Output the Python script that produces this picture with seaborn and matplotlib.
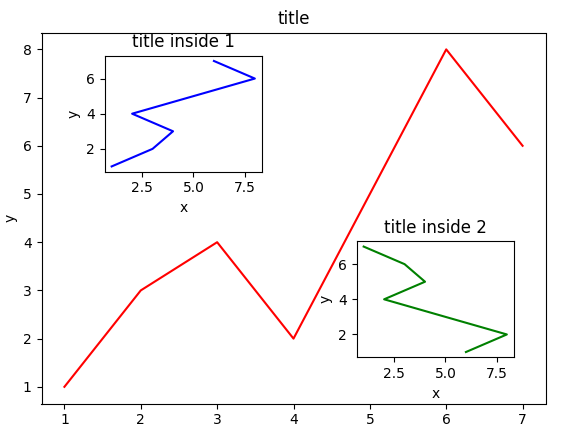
import matplotlib
matplotlib.use("Agg")
import matplotlib.pyplot as plt
import seaborn as sns

# data
x = [1, 2, 3, 4, 5, 6, 7]
y = [1, 3, 4, 2, 5, 8, 6]
y_rev = y[::-1]

W, H = 567, 428


def rect(l, b, w, h):
    # axes boxes given as fractions of a 630x464 canvas, cropped to the output
    return [(l * 630 - 21.5) / W, (b * 464 - 22.1) / H, w * 630 / W, h * 464 / H]


fig = plt.figure(figsize=(W / 100, H / 100), dpi=100)

# main axes
ax1 = fig.add_axes(rect(0.1, 0.1, 0.8, 0.8))
sns.lineplot(x=x, y=y, color='r', ax=ax1, sort=False)
ax1.set_ylabel('y')
ax1.set_title('title')

# inset 1
ax2 = fig.add_axes(rect(0.2, 0.6, 0.25, 0.25))
sns.lineplot(x=y, y=x, color='b', ax=ax2, sort=False)
ax2.set_xlabel('x')
ax2.set_ylabel('y')
ax2.set_title('title inside 1')

# inset 2
ax3 = fig.add_axes(rect(0.6, 0.2, 0.25, 0.25))
sns.lineplot(x=y_rev, y=x, color='g', ax=ax3, sort=False)
ax3.set_xlabel('x')
ax3.set_ylabel('y')
ax3.set_title('title inside 2')

fig.savefig('out.png', dpi=100)
